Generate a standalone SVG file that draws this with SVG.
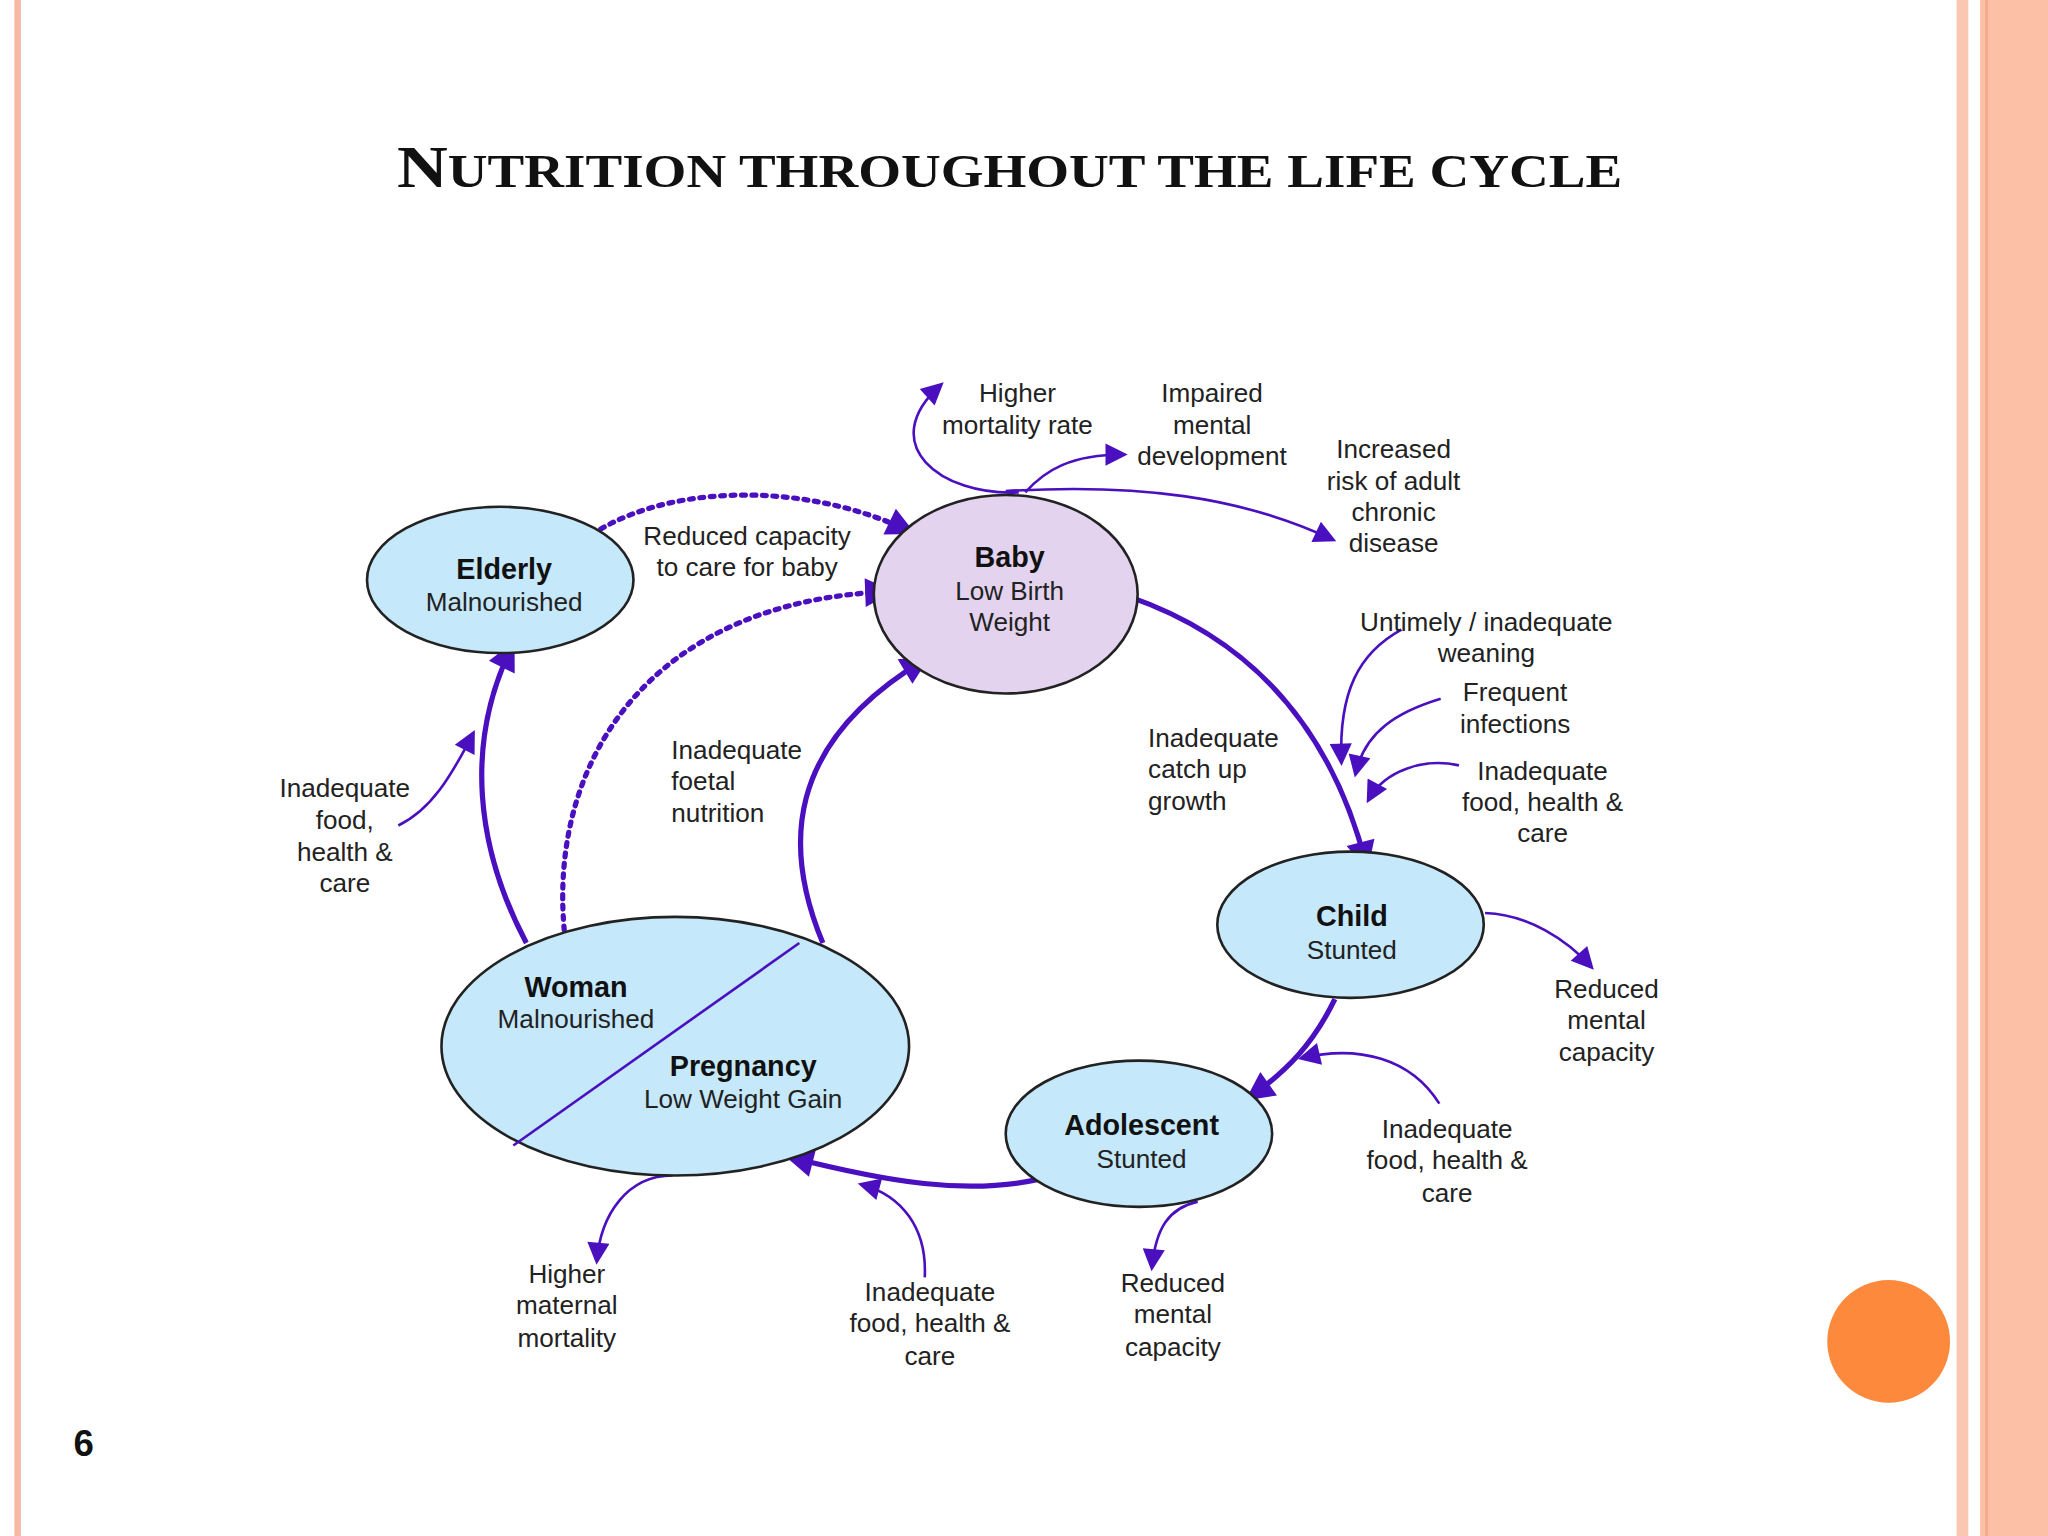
<svg xmlns="http://www.w3.org/2000/svg" width="2048" height="1536" viewBox="0 0 2048 1536">
<style>
.n{fill:#c5e8fb;stroke:#222;stroke-width:2}
.t{font-family:"Liberation Sans",Arial,sans-serif;font-size:20px;fill:#222;text-anchor:middle}
.tl{font-family:"Liberation Sans",Arial,sans-serif;font-size:20px;fill:#222}
.h{font-family:"Liberation Sans",Arial,sans-serif;font-size:22px;font-weight:bold;fill:#111;text-anchor:middle}
.k{fill:none;stroke:#4a10bf;stroke-width:4;marker-end:url(#ab)}
.f{fill:none;stroke:#4a10bf;stroke-width:2;marker-end:url(#as)}
.d{fill:none;stroke:#4a10bf;stroke-width:4;stroke-dasharray:3 5;stroke-linecap:round;marker-end:url(#ab)}
</style>
<defs>
<marker id="ab" viewBox="0 0 10 10" refX="8" refY="5" markerWidth="26" markerHeight="22" markerUnits="userSpaceOnUse" orient="auto"><path d="M0,0L10,5L0,10z" fill="#4a10bf"/></marker>
<marker id="as" viewBox="0 0 10 10" refX="8" refY="5" markerWidth="20" markerHeight="17" markerUnits="userSpaceOnUse" orient="auto"><path d="M0,0L10,5L0,10z" fill="#4a10bf"/></marker>
</defs>
<rect width="2048" height="1536" fill="#fff"/>
<g transform="scale(1.30612)">
<rect x="11" y="0" width="5" height="1176" fill="#f6b9a3"/>
<rect x="1498" y="0" width="9" height="1176" fill="#f9c7b2"/>
<rect x="1516" y="0" width="52" height="1176" fill="#fbc0a6"/>
<rect x="1520" y="0" width="2" height="1176" fill="#f4a88c"/>
<text x="304" y="143" font-family="Liberation Serif,serif" font-size="46" font-weight="bold" fill="#111" textLength="938" lengthAdjust="spacingAndGlyphs">N<tspan font-size="36">UTRITION THROUGHOUT THE LIFE CYCLE</tspan></text>
<text x="64" y="1115" font-family="Liberation Sans,Arial,sans-serif" font-size="28" font-weight="bold" fill="#111" text-anchor="middle">6</text>
<circle cx="1446" cy="1027" r="47" fill="#fd8a3c"/>

<g id="connectors">
<path class="k" d="M865,457 C960,490 1020,560 1046,662"/>
<path class="k" d="M1022,765 C1005,800 985,820 957,840"/>
<path class="k" d="M795,903 C740,915 680,905 605,886"/>
<path class="k" d="M630,722 C600,650 600,570 708,505"/>
<path class="k" d="M403,722 C365,650 355,570 392,495"/>
<path class="d" d="M432,712 C420,580 500,460 680,453"/>
<path class="d" d="M460,405 C520,370 620,370 697,407"/>
<path class="f" d="M305,632 C330,620 345,595 362,562"/>
<path class="f" d="M780,377 C720,380 670,340 720,295"/>
<path class="f" d="M785,377 C800,360 820,348 860,348"/>
<path class="f" d="M770,376 C870,370 950,380 1020,413"/>
<path class="f" d="M1073,482 C1040,500 1025,530 1027,583"/>
<path class="f" d="M1103,535 C1070,545 1045,560 1038,592"/>
<path class="f" d="M1117,586 C1090,580 1060,590 1048,612"/>
<path class="f" d="M1137,699 C1170,700 1200,720 1218,740"/>
<path class="f" d="M1102,845 C1080,810 1040,800 997,810"/>
<path class="f" d="M917,920 C895,925 885,940 882,970"/>
<path class="f" d="M708,978 C710,940 690,915 660,907"/>
<path class="f" d="M515,900 C480,900 460,930 457,965"/>
</g>

<g id="elderly"><ellipse class="n" cx="383" cy="444" rx="102" ry="56"/><text class="h" x="386" y="443">Elderly</text><text class="t" x="386" y="468">Malnourished</text></g>
<g id="baby"><ellipse class="n" cx="770" cy="455" rx="101" ry="76" style="fill:#e3d3ee"/><text class="h" x="773" y="434">Baby</text><text class="t" x="773" y="459">Low Birth</text><text class="t" x="773" y="483">Weight</text></g>
<g id="child"><ellipse class="n" cx="1034" cy="708" rx="102" ry="56"/><text class="h" x="1035" y="709">Child</text><text class="t" x="1035" y="734">Stunted</text></g>
<g id="adolescent"><ellipse class="n" cx="872" cy="868" rx="102" ry="56"/><text class="h" x="874" y="869">Adolescent</text><text class="t" x="874" y="894">Stunted</text></g>
<g id="woman"><ellipse class="n" cx="517" cy="801" rx="179" ry="99"/><line x1="393" y1="877" x2="612" y2="722" stroke="#4a10bf" stroke-width="2"/>
<text class="h" x="441" y="763">Woman</text><text class="t" x="441" y="787">Malnourished</text><text class="h" x="569" y="824">Pregnancy</text><text class="t" x="569" y="848">Low Weight Gain</text></g>

<g id="labels">
<text class="t" x="572" y="417">Reduced capacity</text><text class="t" x="572" y="441">to care for baby</text>
<text class="t" x="779" y="308">Higher</text><text class="t" x="779" y="332">mortality rate</text>
<text class="t" x="928" y="308">Impaired</text><text class="t" x="928" y="332">mental</text><text class="t" x="928" y="356">development</text>
<text class="t" x="1067" y="351">Increased</text><text class="t" x="1067" y="375">risk of adult</text><text class="t" x="1067" y="399">chronic</text><text class="t" x="1067" y="423">disease</text>
<text class="t" x="1138" y="483">Untimely / inadequate</text><text class="t" x="1138" y="507">weaning</text>
<text class="t" x="1160" y="537">Frequent</text><text class="t" x="1160" y="561">infections</text>
<text class="t" x="1181" y="597">Inadequate</text><text class="t" x="1181" y="621">food, health &amp;</text><text class="t" x="1181" y="645">care</text>
<text class="tl" x="879" y="572">Inadequate</text><text class="tl" x="879" y="596">catch up</text><text class="tl" x="879" y="620">growth</text>
<text class="tl" x="514" y="581">Inadequate</text><text class="tl" x="514" y="605">foetal</text><text class="tl" x="514" y="629">nutrition</text>
<text class="t" x="264" y="610">Inadequate</text><text class="t" x="264" y="635">food,</text><text class="t" x="264" y="659">health &amp;</text><text class="t" x="264" y="683">care</text>
<text class="t" x="1230" y="764">Reduced</text><text class="t" x="1230" y="788">mental</text><text class="t" x="1230" y="812">capacity</text>
<text class="t" x="1108" y="871">Inadequate</text><text class="t" x="1108" y="895">food, health &amp;</text><text class="t" x="1108" y="920">care</text>
<text class="t" x="898" y="989">Reduced</text><text class="t" x="898" y="1013">mental</text><text class="t" x="898" y="1038">capacity</text>
<text class="t" x="712" y="996">Inadequate</text><text class="t" x="712" y="1020">food, health &amp;</text><text class="t" x="712" y="1045">care</text>
<text class="t" x="434" y="982">Higher</text><text class="t" x="434" y="1006">maternal</text><text class="t" x="434" y="1031">mortality</text>
</g>
</g>
</svg>
